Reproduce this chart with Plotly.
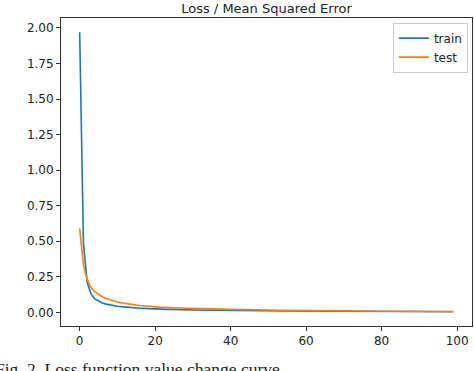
import plotly.graph_objects as go

epochs = list(range(100))

train_loss = [
    1.97, 0.48, 0.21, 0.13, 0.095, 0.078, 0.066, 0.058, 0.052, 0.047,
    0.043, 0.040, 0.037, 0.035, 0.033, 0.031, 0.029, 0.028, 0.026, 0.025,
    0.024, 0.023, 0.022, 0.021, 0.021, 0.020, 0.019, 0.019, 0.018, 0.018,
    0.017, 0.017, 0.016, 0.016, 0.015, 0.015, 0.015, 0.014, 0.014, 0.014,
    0.013, 0.013, 0.013, 0.012, 0.012, 0.012, 0.012, 0.011, 0.011, 0.011,
    0.011, 0.010, 0.010, 0.010, 0.010, 0.010, 0.009, 0.009, 0.009, 0.009,
    0.009, 0.009, 0.008, 0.008, 0.008, 0.008, 0.008, 0.008, 0.007, 0.007,
    0.007, 0.007, 0.007, 0.007, 0.007, 0.006, 0.006, 0.006, 0.006, 0.006,
    0.006, 0.006, 0.006, 0.006, 0.005, 0.005, 0.005, 0.005, 0.005, 0.005,
    0.005, 0.005, 0.005, 0.004, 0.004, 0.004, 0.004, 0.004, 0.004, 0.004,
]

test_loss = [
    0.59, 0.33, 0.23, 0.175, 0.145, 0.125, 0.110, 0.098, 0.088, 0.080,
    0.073, 0.067, 0.062, 0.058, 0.054, 0.051, 0.048, 0.045, 0.043, 0.041,
    0.039, 0.037, 0.036, 0.034, 0.033, 0.032, 0.031, 0.030, 0.029, 0.028,
    0.027, 0.026, 0.026, 0.025, 0.024, 0.024, 0.023, 0.022, 0.022, 0.021,
    0.021, 0.020, 0.020, 0.019, 0.019, 0.018, 0.018, 0.018, 0.017, 0.017,
    0.016, 0.016, 0.016, 0.015, 0.015, 0.015, 0.014, 0.014, 0.014, 0.014,
    0.013, 0.013, 0.013, 0.013, 0.012, 0.012, 0.012, 0.012, 0.011, 0.011,
    0.011, 0.011, 0.011, 0.010, 0.010, 0.010, 0.010, 0.010, 0.009, 0.009,
    0.009, 0.009, 0.009, 0.009, 0.008, 0.008, 0.008, 0.008, 0.008, 0.008,
    0.008, 0.007, 0.007, 0.007, 0.007, 0.007, 0.007, 0.007, 0.006, 0.006,
]

x_ticks = [0, 20, 40, 60, 80, 100]
y_ticks = [0.00, 0.25, 0.50, 0.75, 1.00, 1.25, 1.50, 1.75, 2.00]

title_text = "Loss / Mean Squared Error"
caption_text = "Fig. 2. Loss function value change curve"

fig = go.Figure()
fig.add_trace(go.Scatter(x=epochs, y=train_loss, mode="lines", name="train",
                         line=dict(color="#1f77b4", width=1.6)))
fig.add_trace(go.Scatter(x=epochs, y=test_loss, mode="lines", name="test",
                         line=dict(color="#ff7f0e", width=1.6)))

font_main = "DejaVu Sans, sans-serif"

fig.update_layout(
    width=474, height=371, autosize=False,
    margin=dict(l=61, r=2, t=18, b=45, autoexpand=False),
    paper_bgcolor="white", plot_bgcolor="white",
    font=dict(family=font_main, size=12, color="#222"),
    title=dict(text=title_text, x=0.5, xref="paper", xanchor="center",
               y=1 - 8 / 371, yref="container", yanchor="middle",
               font=dict(family=font_main, size=13, color="#222")),
    showlegend=True,
    legend=dict(x=0.99, y=0.985, xanchor="right", yanchor="top",
                bgcolor="rgba(255,255,255,0.9)", bordercolor="#cccccc",
                borderwidth=1, font=dict(family=font_main, size=12, color="#222"),
                tracegroupgap=0, itemwidth=30),
)

fig.update_xaxes(range=[-4.95, 103.95], tickvals=x_ticks, ticks="outside",
                 ticklen=4, tickcolor="#333", showgrid=False, zeroline=False,
                 showline=True, linecolor="#333", linewidth=1, mirror=True,
                 automargin=False,
                 tickfont=dict(family=font_main, size=12, color="#222"))
fig.update_yaxes(range=[-0.096, 2.07], tickvals=y_ticks, tickformat=".2f",
                 ticks="outside", ticklen=4, tickcolor="#333", showgrid=False,
                 zeroline=False, showline=True, linecolor="#333", linewidth=1,
                 mirror=True, automargin=False,
                 tickfont=dict(family=font_main, size=12, color="#222"))

fig.add_annotation(text=caption_text, xref="paper", yref="paper",
                   x=(-7 - 61) / 411, y=(326 - 357) / 308,
                   xanchor="left", yanchor="top", showarrow=False,
                   font=dict(family="Liberation Serif, serif", size=17.5, color="#222"))

fig.write_html("out.html",
               config={"displayModeBar": False},
               post_script="document.body.style.margin='0';document.body.style.overflow='hidden';")
